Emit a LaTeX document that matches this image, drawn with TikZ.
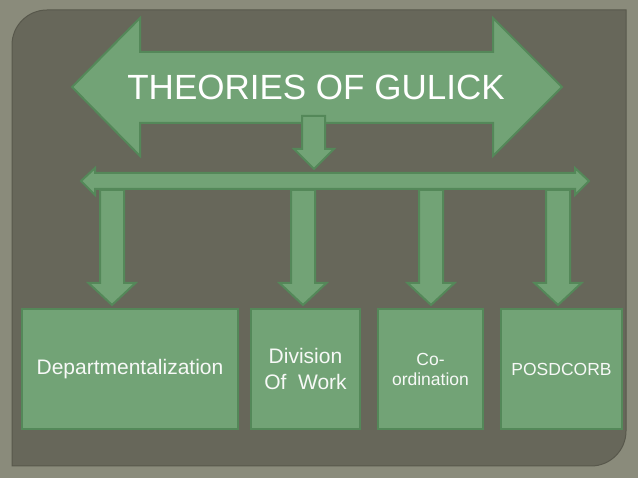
\documentclass[tikz,border=0pt]{standalone}
\usepackage{fontspec}
\setmainfont{Liberation Sans}

\definecolor{outerbg}{RGB}{138,139,123}
\definecolor{panelbg}{RGB}{103,103,90}
\definecolor{panelrim}{RGB}{88,88,76}
\definecolor{leaf}{RGB}{114,163,118}
\definecolor{leafline}{RGB}{84,136,89}

\tikzset{
  blockarrow/.style={fill=leaf, draw=leafline, line width=2pt, line join=miter},
  leafbox/.style={blockarrow, rectangle, inner sep=0pt, minimum height=120,
                  text=white!94!leaf, align=center},
}

\begin{document}
\begin{tikzpicture}[x=1pt, y=-1pt]
    %background and panel
    \fill[outerbg] (0,0) rectangle (638,478);
    \useasboundingbox (0,0) rectangle (638,478);
    \filldraw[fill=panelbg, draw=panelrim, line width=1pt]
        (12,466) -- (12,45) arc[start angle=180, end angle=270, radius=35]
        -- (626,10) -- (626,431) arc[start angle=0, end angle=90, radius=35] -- cycle;

    %big double arrow with the title
    \draw[blockarrow] (72,87) -- (140,18) -- (140,52) -- (493,52) -- (493,18)
        -- (562,87) -- (493,156) -- (493,123) -- (140,123) -- (140,156) -- cycle;
    \node[anchor=base, text=white, font=\fontsize{35}{42}\selectfont]
        (title) at (316,100) {THEORIES OF GULICK};

    %small arrow down to the bar
    \draw[blockarrow] (302,116) -- (325,116) -- (325,149) -- (334,149)
        -- (314,169) -- (294,149) -- (302,149) -- cycle;

    %bar
    \draw[blockarrow] (81,181) -- (95,168) -- (95,173) -- (575,173) -- (575,168)
        -- (589,181) -- (575,195) -- (575,189) -- (95,189) -- (95,195) -- cycle;

    %arrows down to the boxes
    \foreach \c in {112,303,431,558}
        \draw[blockarrow] ({\c-12},190) -- ({\c+12},190) -- ({\c+12},283)
            -- ({\c+23.5},283) -- (\c,305) -- ({\c-23.5},283) -- ({\c-12},283) -- cycle;

    %boxes
    \node[leafbox, minimum width=216, font=\fontsize{21}{26}\selectfont]
        (dept) at (130,369) {Departmentalization};
    \node[leafbox, minimum width=109, font=\fontsize{21}{26}\selectfont]
        (division) at (305.5,369) {Division\\Of~~Work};
    \node[leafbox, minimum width=105, font=\fontsize{17.5}{20}\selectfont]
        (coord) at (430.5,369) {Co-\\ordination};
    \node[leafbox, minimum width=121, font=\fontsize{17.5}{21}\selectfont]
        (posdcorb) at (561.5,369) {POSDCORB};
\end{tikzpicture}
\end{document}
